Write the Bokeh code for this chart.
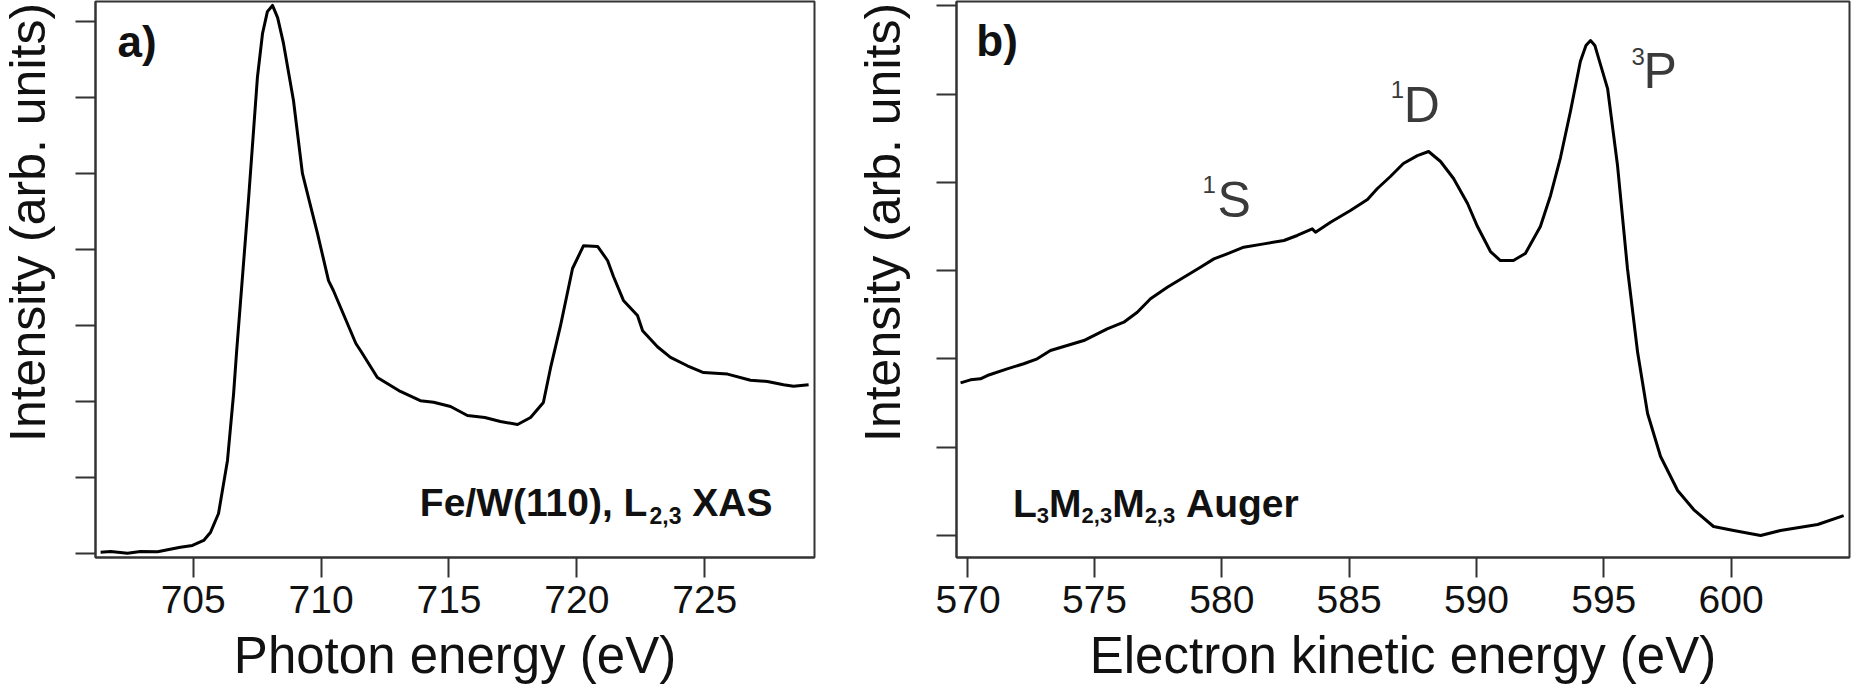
import math
from bokeh.plotting import figure
from bokeh.layouts import row
from bokeh.models import Range1d, FixedTicker, Label
from bokeh.embed import file_html
from bokeh.resources import INLINE

# ---------------- data ----------------
# panel a: Fe/W(110) L2,3 XAS
a_energy = [701.38, 701.77, 702.43, 702.94, 703.61, 704.00, 704.50, 704.97, 705.41,
            705.68, 705.99, 706.34, 706.58, 706.70, 707.16, 707.51, 707.71, 707.90,
            708.10, 708.30, 708.53, 708.92, 709.27, 709.56, 709.86, 710.29, 710.48,
            711.36, 711.54, 712.20, 713.10, 713.88, 714.40, 715.06, 715.72, 716.40,
            717.01, 717.68, 718.19, 718.69, 718.97, 719.36, 719.83, 720.26, 720.81,
            721.20, 721.43, 721.82, 722.37, 722.57, 723.15, 723.66, 724.32, 724.95,
            725.89, 726.79, 727.45, 728.08, 728.47, 729.06]
a_intensity = [0.017, 0.026, 0.004, 0.026, 0.022, 0.048, 0.083, 0.105, 0.171,
               0.28, 0.526, 1.224, 2.105, 2.671, 4.645, 6.263, 6.842, 7.13,
               7.211, 7.05, 6.711, 5.96, 5.0, 4.61, 4.21, 3.59, 3.46,
               2.763, 2.671, 2.316, 2.132, 2.01, 1.99, 1.934, 1.816, 1.79,
               1.737, 1.697, 1.789, 1.987, 2.441, 2.997, 3.75, 4.05, 4.04,
               3.855, 3.645, 3.33, 3.13, 2.93, 2.72, 2.58, 2.47, 2.38,
               2.36, 2.28, 2.263, 2.22, 2.20, 2.22]

# panel b: L3M2,3M2,3 Auger
b_energy = [569.74, 570.13, 570.52, 570.79, 571.57, 572.22, 572.75, 573.27, 574.58,
            575.50, 576.15, 576.68, 577.20, 577.86, 578.51, 579.16, 579.69, 580.21,
            580.86, 581.65, 582.44, 582.96, 583.55, 583.68, 584.27, 585.05, 585.72,
            586.11, 586.62, 587.13, 587.68, 588.12, 588.59, 589.10, 589.65, 590.04,
            590.55, 590.94, 591.45, 591.92, 592.51, 592.91, 593.30, 593.69, 594.08,
            594.30, 594.48, 594.65, 594.79, 595.15, 595.54, 595.93, 596.33, 596.72,
            597.23, 597.90, 598.53, 599.31, 600.10, 601.16, 601.94, 603.40, 604.42]
b_intensity = [1.729, 1.763, 1.775, 1.812, 1.888, 1.945, 2.001, 2.095, 2.208,
               2.341, 2.416, 2.529, 2.681, 2.812, 2.925, 3.038, 3.133, 3.190,
               3.265, 3.303, 3.341, 3.398, 3.473, 3.435, 3.548, 3.681, 3.805,
               3.930, 4.066, 4.213, 4.303, 4.349, 4.236, 4.043, 3.760, 3.499,
               3.216, 3.114, 3.114, 3.194, 3.499, 3.851, 4.281, 4.802, 5.368,
               5.55, 5.606, 5.55, 5.413, 5.062, 4.190, 3.024, 2.072, 1.382,
               0.895, 0.510, 0.294, 0.102, 0.057, 0.0, 0.057, 0.125, 0.226]

a_xticks = [705, 710, 715, 720, 725]
a_yticks = [0, 1, 2, 3, 4, 5, 6, 7]
b_xticks = [570, 575, 580, 585, 590, 595, 600]
b_yticks = [0, 1, 2, 3, 4, 5, 6]

x_title_a = "Photon energy (eV)"
x_title_b = "Electron kinetic energy (eV)"
y_title = "Intensity (arb. units)"

# ---------------- styling ----------------
FONT = "Liberation Sans"
AX = "#333333"
TXT = "#111111"
LBL = "#3a3a3a"
MID = 0.3465   # distance (in em) from alphabetic baseline to middle of the text box


def make_fig(xr, yr, xticks, yticks, fw, left, right, xlabel):
    p = figure(frame_width=fw, frame_height=556,
               x_range=Range1d(*xr), y_range=Range1d(*yr),
               output_backend="svg", toolbar_location=None,
               min_border_left=left, min_border_right=right,
               min_border_top=1, min_border_bottom=135)
    p.grid.visible = False
    p.outline_line_color = AX
    p.outline_line_width = 2
    p.background_fill_color = "white"
    p.border_fill_color = "white"
    for ax in (p.xaxis[0], p.yaxis[0]):
        ax.axis_line_color = AX
        ax.axis_line_width = 2
        ax.major_tick_line_color = AX
        ax.major_tick_line_width = 2
        ax.major_tick_in = 0
        ax.major_tick_out = 20
        ax.minor_tick_line_color = None
    p.xaxis.ticker = FixedTicker(ticks=xticks)
    p.xaxis.major_label_text_font = FONT
    p.xaxis.major_label_text_font_size = "39px"
    p.xaxis.major_label_text_color = TXT
    p.xaxis.major_label_standoff = 8
    p.xaxis.axis_label = xlabel
    p.xaxis.axis_label_standoff = 11
    p.xaxis.axis_label_text_font = FONT
    p.xaxis.axis_label_text_font_size = "51px"
    p.xaxis.axis_label_text_font_style = "normal"
    p.xaxis.axis_label_text_color = TXT
    p.yaxis.ticker = FixedTicker(ticks=yticks)
    p.yaxis.major_label_overrides = {t: "" for t in yticks}
    p.yaxis.major_label_standoff = 0
    return p


def lab(p, x, y, text, size, ppu, bold=False, color=TXT, xoff=0):
    # (x, y) is the left end of the text baseline; ppu = pixels per y unit
    p.add_layout(Label(x=x, y=y + MID * size / ppu, text=text, x_offset=xoff,
                       text_font=FONT, text_font_size=f"{size}px",
                       text_font_style="bold" if bold else "normal",
                       text_color=color, text_align="left",
                       text_baseline="middle"))


def title_strip(width, baseline_x, center_y):
    t = figure(width=width, height=692, x_range=Range1d(0, width), y_range=Range1d(692, 0),
               x_axis_type=None, y_axis_type=None, output_backend="svg",
               toolbar_location=None, min_border=0)
    t.grid.visible = False
    t.outline_line_color = None
    t.background_fill_color = "white"
    t.border_fill_color = "white"
    t.add_layout(Label(x=baseline_x - MID * 50, y=center_y, text=y_title, angle=math.pi / 2,
                       text_font=FONT, text_font_size="50px", text_color=TXT,
                       text_align="center", text_baseline="middle"))
    return t


# ---------------- panel a ----------------
ta = title_strip(75, 45, 275)
pa = make_fig((701.18, 729.29), (-0.053, 7.263), a_xticks, a_yticks, 719, 20, 40, x_title_a)
pa.line(a_energy, a_intensity, line_width=3, line_color="black", line_join="round")

PA = 76.0
lab(pa, 702.04, 6.54, "a)", 44, PA, bold=True)
fa_x, fa_y, fa_sub = 713.86, 0.487, 0.395
lab(pa, fa_x, fa_y, "Fe/W(110), L", 39, PA, bold=True)
lab(pa, fa_x, fa_sub, "2,3", 23, PA, bold=True, xoff=229.7)
lab(pa, fa_x, fa_y, "XAS", 39, PA, bold=True, xoff=229.7 + 32.0 + 10.8)

# ---------------- panel b ----------------
tb = title_strip(81, 46, 275)
pb = make_fig((569.58, 604.65), (-0.249, 6.048), b_xticks, b_yticks, 893, 21, 2, x_title_b)
pb.line(b_energy, b_intensity, line_width=3, line_color="black", line_join="round")

PB = 88.3
lab(pb, 570.36, 5.436, "b)", 44, PB, bold=True)
ab_x, ab_y, ab_sub = 571.80, 0.204, 0.136
w_L, w_s3, w_M, w_s23, w_sp = 23.8, 12.2, 32.5, 30.6, 10.8
off = 0.0
lab(pb, ab_x, ab_y, "L", 39, PB, bold=True, xoff=off); off += w_L
lab(pb, ab_x, ab_sub, "3", 22, PB, bold=True, xoff=off); off += w_s3
lab(pb, ab_x, ab_y, "M", 39, PB, bold=True, xoff=off); off += w_M
lab(pb, ab_x, ab_sub, "2,3", 22, PB, bold=True, xoff=off); off += w_s23
lab(pb, ab_x, ab_y, "M", 39, PB, bold=True, xoff=off); off += w_M
lab(pb, ab_x, ab_sub, "2,3", 22, PB, bold=True, xoff=off); off += w_s23 + w_sp
lab(pb, ab_x, ab_y, "Auger", 39, PB, bold=True, xoff=off)

# term labels: superscript (x, y) then letter (x, y)
terms = [("1", 579.24, 3.88, "S", 579.83, 3.60),
         ("1", 586.63, 4.96, "D", 587.14, 4.68),
         ("3", 596.09, 5.33, "P", 596.56, 5.06)]
for sup, sx, sy, letter, lx, ly in terms:
    lab(pb, sx, sy, sup, 24, PB, color=LBL)
    lab(pb, lx, ly, letter, 50, PB, color=LBL)

layout = row(ta, pa, tb, pb)
open("out.html", "w").write(file_html(layout, INLINE))
